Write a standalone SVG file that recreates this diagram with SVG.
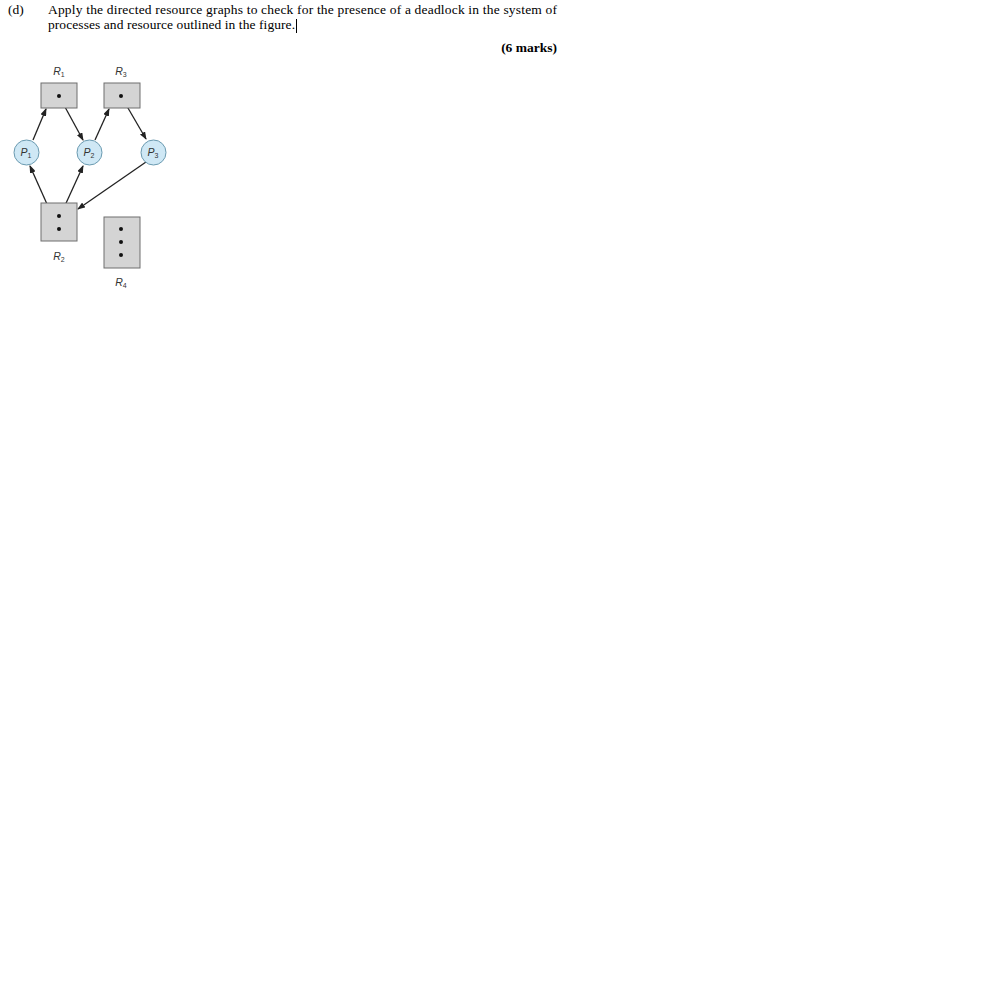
<svg xmlns="http://www.w3.org/2000/svg" width="1000" height="988" viewBox="0 0 1000 988">
<style>
.t{font-family:"Liberation Serif","Times New Roman",serif;font-size:13.5px;fill:#000}
.b{font-weight:bold}
.res{fill:#d4d4d4;stroke:#6e6e6e;stroke-width:1}
.proc{fill:#cfe8f5;stroke:#6a9ab0;stroke-width:1}
.dot{fill:#111}
.lbl{font-family:"Liberation Sans",Arial,sans-serif;font-style:italic;font-size:10.5px;fill:#333;text-anchor:middle}
.sub{font-size:7px;font-style:normal}
.edge{stroke:#222;stroke-width:1.3;fill:none;marker-end:url(#ah)}
</style>
<defs>
<marker id="ah" markerWidth="8" markerHeight="6" refX="7" refY="3" orient="auto" markerUnits="userSpaceOnUse">
<path d="M0,0 L8,3 L0,6 Z" fill="#222"/>
</marker>
</defs>
<rect width="1000" height="988" fill="#fff"/>
<g id="question">
<text class="t" x="8" y="14">(d)</text>
<text class="t" x="48" y="14" textLength="509" lengthAdjust="spacing">Apply the directed resource graphs to check for the presence of a deadlock in the system of</text>
<text class="t" x="48" y="29" textLength="247" lengthAdjust="spacing">processes and resource outlined in the figure.</text>
<line x1="296.5" y1="19" x2="296.5" y2="33" stroke="#000" stroke-width="1"/>
<text class="t b" x="557" y="52" text-anchor="end">(6 marks)</text>
</g>
<g id="connectors">
<line class="edge" x1="33" y1="140" x2="46" y2="109"/>
<line class="edge" x1="59" y1="96" x2="83" y2="140"/>
<line class="edge" x1="95" y1="140" x2="109" y2="109"/>
<line class="edge" x1="121" y1="96" x2="146" y2="139"/>
<line class="edge" x1="55" y1="222" x2="30" y2="166"/>
<line class="edge" x1="62" y1="212" x2="83" y2="166"/>
<line class="edge" x1="146" y1="162" x2="78" y2="209"/>
</g>
<g id="R1">
<rect class="res" x="41" y="83" width="36" height="25"/>
<circle class="dot" cx="59" cy="96" r="2"/>
<text class="lbl" x="59" y="75">R<tspan class="sub" dy="2">1</tspan></text>
</g>
<g id="R3">
<rect class="res" x="104" y="83" width="36" height="25"/>
<circle class="dot" cx="121" cy="96" r="2"/>
<text class="lbl" x="121" y="75">R<tspan class="sub" dy="2">3</tspan></text>
</g>
<g id="R2">
<rect class="res" x="41" y="203" width="36" height="38"/>
<circle class="dot" cx="59" cy="216" r="2"/>
<circle class="dot" cx="59" cy="229" r="2"/>
<text class="lbl" x="59" y="260">R<tspan class="sub" dy="2">2</tspan></text>
</g>
<g id="R4">
<rect class="res" x="104" y="217" width="36" height="51"/>
<circle class="dot" cx="121" cy="229" r="2"/>
<circle class="dot" cx="121" cy="242" r="2"/>
<circle class="dot" cx="121" cy="255" r="2"/>
<text class="lbl" x="121" y="286">R<tspan class="sub" dy="2">4</tspan></text>
</g>
<g id="P1">
<circle class="proc" cx="26.5" cy="152.5" r="12.5"/>
<text class="lbl" x="26" y="156">P<tspan class="sub" dy="2">1</tspan></text>
</g>
<g id="P2">
<circle class="proc" cx="89.5" cy="152.5" r="12.5"/>
<text class="lbl" x="89" y="156">P<tspan class="sub" dy="2">2</tspan></text>
</g>
<g id="P3">
<circle class="proc" cx="153.5" cy="152.5" r="12.5"/>
<text class="lbl" x="153" y="156">P<tspan class="sub" dy="2">3</tspan></text>
</g>
</svg>
